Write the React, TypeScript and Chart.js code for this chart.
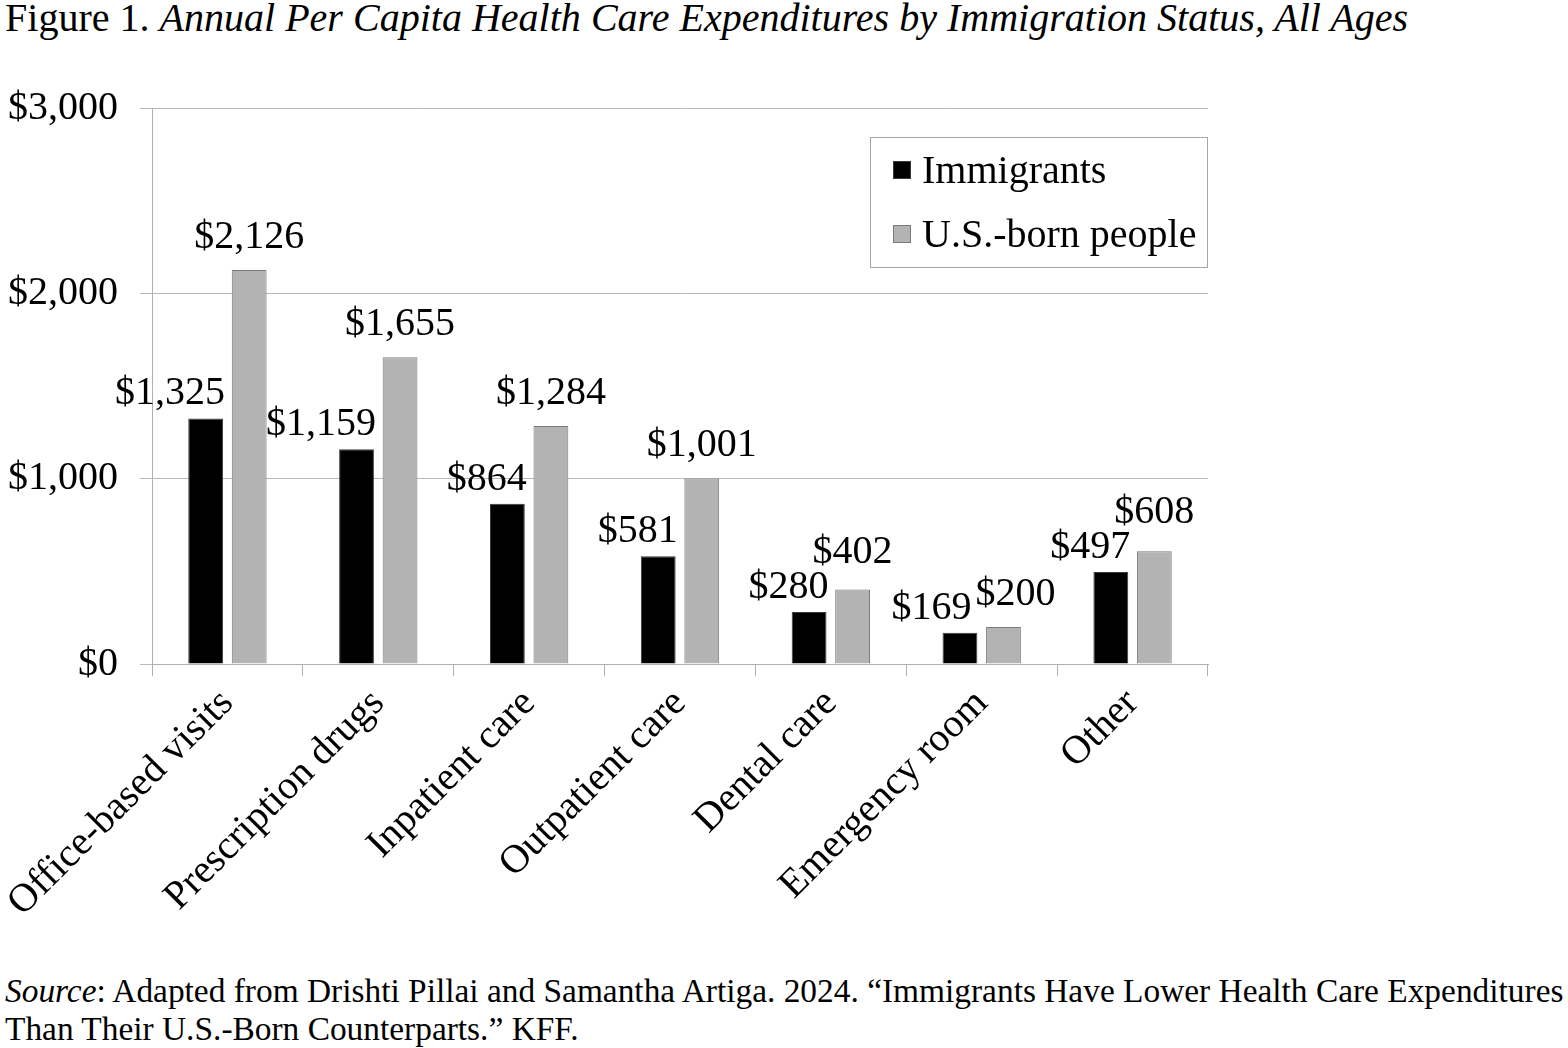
import React, { useEffect, useLayoutEffect, useRef } from "react";
import { Chart, registerables } from "chart.js";

Chart.register(...registerables);

const categories = [
  "Office-based visits",
  "Prescription drugs",
  "Inpatient care",
  "Outpatient care",
  "Dental care",
  "Emergency room",
  "Other",
];
const immigrants = [1325, 1159, 864, 581, 280, 169, 497];
const usBorn = [2126, 1655, 1284, 1001, 402, 200, 608];
const seriesNames = ["Immigrants", "U.S.-born people"];
const yMin = 0;
const yMax = 3000;
const yStep = 1000;

const titlePlain = "Figure 1. ";
const titleItalic = "Annual Per Capita Health Care Expenditures by Immigration Status, All Ages";
const sourceLabel = "Source";
const sourceLine1 = ": Adapted from Drishti Pillai and Samantha Artiga. 2024. \u201CImmigrants Have Lower Health Care Expenditures";
const sourceLine2 = "Than Their U.S.-Born Counterparts.\u201D KFF.";

const FONT = "'Liberation Serif', 'Times New Roman', serif";
const fmt = (v: number) => "$" + v.toLocaleString("en-US");

const dataLabelPlugin = {
  id: "dataLabels",
  afterDatasetsDraw(chart: any) {
    const ctx = chart.ctx;
    ctx.save();
    ctx.font = `40px ${FONT}`;
    ctx.fillStyle = "#000";
    ctx.textBaseline = "alphabetic";
    ctx.textAlign = "left";
    const m0 = chart.getDatasetMeta(0);
    const m1 = chart.getDatasetMeta(1);
    const capH = 27;
    m0.data.forEach((bar0: any, i: number) => {
      const v0 = chart.data.datasets[0].data[i];
      const v1 = chart.data.datasets[1].data[i];
      const bar1 = m1.data[i];
      const t0 = fmt(v0);
      const t1 = fmt(v1);
      const w0 = ctx.measureText(t0).width;
      const w1 = ctx.measureText(t1).width;
      let r0 = bar0.x + bar0.width / 2 + 2;
      const b0 = bar0.y - 14;
      let l1 = bar1.x - w1 / 2;
      let b1 = bar1.y - 22;
      const overlapX = l1 < r0 + 4;
      const overlapY = b1 > b0 - capH - 8 && b1 - capH < b0;
      if (overlapX && overlapY) {
        const needUp = b1 - (b0 - capH - 8);
        if (needUp <= 10) {
          b1 -= needUp;
        } else {
          const needed = r0 + 4 - l1;
          const usShift = Math.min(12, needed);
          l1 += usShift;
          r0 -= Math.min(12, needed - usShift);
        }
      }
      ctx.fillText(t0, r0 - w0, b0);
      ctx.fillText(t1, l1, b1);
    });
    ctx.restore();
  },
};

const legendPlugin = {
  id: "boxLegend",
  afterDraw(chart: any) {
    const ctx = chart.ctx;
    const area = chart.chartArea;
    const boxW = 337;
    const boxH = 130;
    const x = area.right - 1 - boxW;
    const y = area.top + 29;
    ctx.save();
    ctx.fillStyle = "#fff";
    ctx.fillRect(x, y, boxW, boxH);
    ctx.strokeStyle = "#a6a6a6";
    ctx.lineWidth = 1;
    ctx.strokeRect(Math.round(x) + 0.5, Math.round(y) + 0.5, boxW, boxH);
    ctx.font = `40px ${FONT}`;
    ctx.textBaseline = "middle";
    ctx.textAlign = "left";
    chart.data.datasets.forEach((ds: any, i: number) => {
      const cy = y + 33 + i * 64;
      const mx = x + 23;
      ctx.fillStyle = ds.backgroundColor;
      ctx.fillRect(mx, cy - 9, 18, 18);
      ctx.strokeStyle = ds.borderColor;
      ctx.strokeRect(mx + 0.5, cy - 9 + 0.5, 17, 17);
      ctx.fillStyle = "#000";
      ctx.fillText(ds.label, x + 52, cy + 2);
    });
    ctx.restore();
  },
};

function ChartCanvas() {
  const ref = useRef<HTMLCanvasElement>(null);
  useEffect(() => {
    if (!ref.current) return;
    const chart = new Chart(ref.current, {
      type: "bar",
      data: {
        labels: categories,
        datasets: [
          {
            label: seriesNames[0],
            data: immigrants,
            backgroundColor: "#000000",
            borderColor: "#3a3a3a",
            borderWidth: 1,
            barPercentage: 0.8,
            categoryPercentage: 0.577,
          },
          {
            label: seriesNames[1],
            data: usBorn,
            backgroundColor: "#b3b3b3",
            borderColor: "#7a7a7a",
            borderWidth: 1,
            barPercentage: 0.8,
            categoryPercentage: 0.577,
          },
        ],
      },
      options: {
        animation: false,
        responsive: false,
        maintainAspectRatio: false,
        devicePixelRatio: 1,
        layout: { autoPadding: false, padding: { left: 0, right: 360, top: 48, bottom: 0 } },
        plugins: { legend: { display: false }, tooltip: { enabled: false }, title: { display: false } },
        scales: {
          x: {
            type: "category",
            offset: true,
            grid: {
              offset: true,
              drawOnChartArea: false,
              drawTicks: true,
              tickLength: 12,
              color: "#b0b0b0",
            },
            border: { display: true, color: "#b0b0b0" },
            ticks: {
              maxRotation: 45,
              minRotation: 45,
              autoSkip: false,
              padding: 4,
              color: "#000",
              font: { family: FONT, size: 40 },
            },
            afterFit: (axis: any) => {
              axis.height = 276;
            },
          },
          y: {
            min: yMin,
            max: yMax,
            grid: { color: "#b8b8b8", tickLength: 12, drawTicks: true },
            border: { display: true, color: "#b0b0b0" },
            ticks: {
              stepSize: yStep,
              padding: 22,
              color: "#000",
              font: { family: FONT, size: 40 },
              callback: (v: any) => fmt(Number(v)),
            },
            afterFit: (axis: any) => {
              axis.width = 152;
            },
          },
        },
      },
      plugins: [dataLabelPlugin, legendPlugin],
    } as any);
    return () => chart.destroy();
  }, []);
  return (
    <canvas
      ref={ref}
      width={1568}
      height={880}
      style={{ position: "absolute", left: 0, top: 60, width: 1568, height: 880 }}
    />
  );
}

function FitText({ target, style, children }: any) {
  const ref = useRef<HTMLSpanElement>(null);
  useLayoutEffect(() => {
    const el = ref.current;
    if (!el) return;
    el.style.transform = "none";
    const w = el.getBoundingClientRect().width;
    if (w > 0) el.style.transform = `scaleX(${target / w})`;
  }, [target]);
  return (
    <span
      ref={ref}
      style={{ display: "inline-block", whiteSpace: "nowrap", transformOrigin: "0 0", ...style }}
    >
      {children}
    </span>
  );
}

export default function App() {
  return (
    <div
      style={{
        position: "fixed",
        left: 0,
        top: 0,
        width: 1568,
        height: 1048,
        background: "#fff",
        overflow: "hidden",
        fontFamily: FONT,
        color: "#000",
      }}
    >
      <div style={{ position: "absolute", left: 5, top: -2, lineHeight: 1, fontSize: 40 }}>
        <FitText target={1403}>
          {titlePlain}
          <i>{titleItalic}</i>
        </FitText>
      </div>
      <ChartCanvas />
      <div style={{ position: "absolute", left: 5, top: 972, lineHeight: "38px", fontSize: 33.4 }}>
        <div style={{ whiteSpace: "nowrap" }}>
          <i>{sourceLabel}</i>
          {sourceLine1}
        </div>
        <div style={{ whiteSpace: "nowrap" }}>{sourceLine2}</div>
      </div>
    </div>
  );
}
